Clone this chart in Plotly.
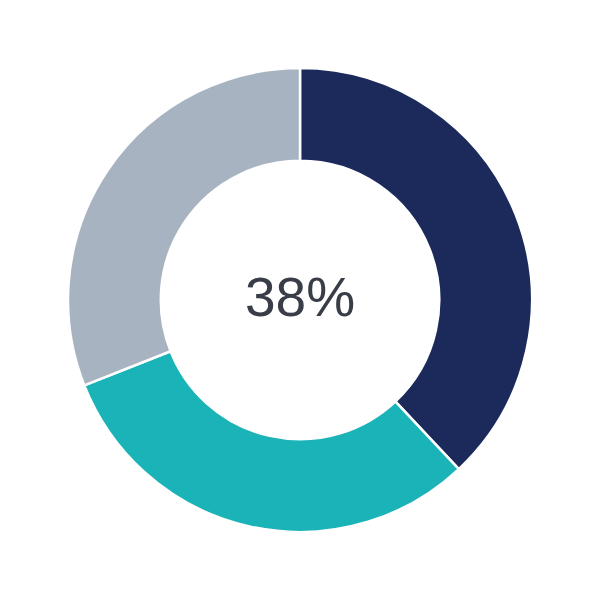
import plotly.graph_objects as go

labels = ["Segment A", "Segment B", "Segment C"]
values = [38, 31, 31]
colors = ["#1b2a5a", "#1ab3b8", "#a8b3c2"]
center_text = "38%"

# page body has an 8px default margin; compensate so the donut centres at (300,300)
off = 8
cx, cy, R = 300 - off, 300 - off, 232

fig = go.Figure(go.Pie(
    labels=labels,
    values=values,
    hole=0.6,
    sort=False,
    direction="clockwise",
    rotation=0,
    marker=dict(colors=colors, line=dict(color="#ffffff", width=2.5)),
    textinfo="none",
    hoverinfo="label+percent",
    domain=dict(x=[(cx - R) / 600, (cx + R) / 600],
                y=[1 - (cy + R) / 600, 1 - (cy - R) / 600]),
))

fig.add_annotation(
    text=center_text, x=cx / 600, y=1 - cy / 600, xref="paper", yref="paper",
    showarrow=False, yshift=3,
    font=dict(family="Liberation Sans, Arial, sans-serif", size=55, color="#383d48"),
)

fig.update_layout(
    width=600, height=600,
    margin=dict(l=0, r=0, t=0, b=0),
    showlegend=False,
    paper_bgcolor="#ffffff",
    plot_bgcolor="#ffffff",
)

fig.write_html("out.html")
